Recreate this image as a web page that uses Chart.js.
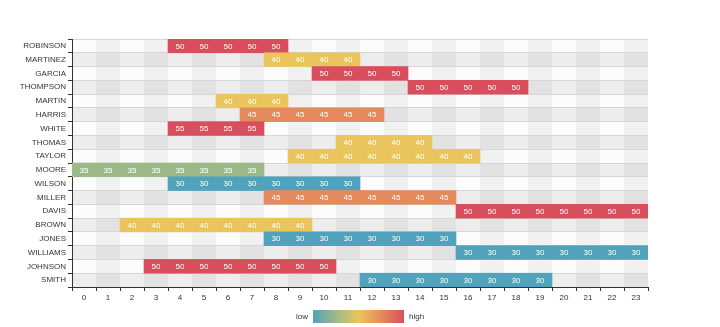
<!DOCTYPE html>
<html lang="en">
<head>
<meta charset="UTF-8">
<meta name="viewport" content="width=device-width, initial-scale=1.0">
<title>Hourly load per person</title>
<script src="https://cdn.jsdelivr.net/npm/chart.js"></script>
<style>
  body { margin: 0; background: #fff; }
</style>
</head>
<body>
<canvas id="heat" width="720" height="327"></canvas>
<script>
const names = ['ROBINSON', 'MARTINEZ', 'GARCIA', 'THOMPSON', 'MARTIN', 'HARRIS', 'WHITE', 'THOMAS', 'TAYLOR',
               'MOORE', 'WILSON', 'MILLER', 'DAVIS', 'BROWN', 'JONES', 'WILLIAMS', 'JOHNSON', 'SMITH'];
const hours = [0, 1, 2, 3, 4, 5, 6, 7, 8, 9, 10, 11, 12, 13, 14, 15, 16, 17, 18, 19, 20, 21, 22, 23];
// each person works one block of hours at a constant load
const fromHour = [4, 8, 10, 14, 6, 7, 4, 11, 9, 0, 4, 8, 16, 2, 8, 16, 3, 12];
const toHour   = [8, 11, 13, 18, 8, 12, 7, 14, 16, 7, 11, 15, 23, 9, 15, 23, 10, 19];
const load     = [50, 40, 50, 50, 40, 45, 55, 40, 40, 35, 30, 45, 50, 40, 30, 30, 50, 30];

const FONT = "'Liberation Sans', Arial, Helvetica, sans-serif";
const colorStops = [[30, '#50a3ba'], [35, '#9cb98a'], [40, '#eac55e'], [45, '#e48b5e'], [50, '#d94e5d']];

function hexToRgb(h) {
  return [1, 3, 5].map(i => parseInt(h.slice(i, i + 2), 16));
}

function colorFor(v) {
  const lo = colorStops[0][0], hi = colorStops[colorStops.length - 1][0];
  v = Math.max(lo, Math.min(hi, v));
  for (let i = 0; i < colorStops.length - 1; i++) {
    const [a, ca] = colorStops[i], [b, cb] = colorStops[i + 1];
    if (v <= b) {
      const t = (v - a) / (b - a);
      const A = hexToRgb(ca), B = hexToRgb(cb);
      const c = A.map((x, k) => Math.round(x + (B[k] - x) * t));
      return `rgb(${c[0]},${c[1]},${c[2]})`;
    }
  }
  return colorStops[colorStops.length - 1][1];
}

// alternating column and row bands behind the cells
const bands = {
  id: 'bands',
  beforeDraw(chart) {
    const { ctx, chartArea: a, scales: { x } } = chart;
    const light = 'rgba(250,250,250,0.3)', dark = 'rgba(200,200,200,0.3)';
    ctx.save();
    hours.forEach(h => {
      const l = x.getPixelForValue(h - 0.5), r = x.getPixelForValue(h + 0.5);
      ctx.fillStyle = h % 2 ? dark : light;
      ctx.fillRect(l, a.top, r - l, a.bottom - a.top);
    });
    const rowH = (a.bottom - a.top) / names.length;
    names.forEach((n, i) => {
      ctx.fillStyle = i % 2 ? dark : light;
      ctx.fillRect(a.left, a.top + i * rowH, a.right - a.left, rowH);
    });
    ctx.restore();
  }
};

// value written in the middle of each cell
const cellText = {
  id: 'cellText',
  afterDatasetsDraw(chart) {
    const { ctx } = chart;
    ctx.save();
    ctx.fillStyle = '#fff';
    ctx.font = '8px ' + FONT;
    ctx.textAlign = 'center';
    ctx.textBaseline = 'middle';
    chart.data.datasets.forEach((ds, d) => {
      chart.getDatasetMeta(d).data.forEach((el, i) => {
        if (ds.data[i] == null) return;
        const { x, y, base } = el.getProps(['x', 'y', 'base'], true);
        ctx.fillText(String(load[i]), (x + base) / 2, y + 0.5);
      });
    });
    ctx.restore();
  }
};

// continuous visual map under the plot
const scaleLegend = {
  id: 'scaleLegend',
  afterDraw(chart) {
    const { ctx } = chart;
    const x0 = 313, y0 = 310, w = 91, h = 13;
    ctx.save();
    const g = ctx.createLinearGradient(x0, 0, x0 + w, 0);
    colorStops.forEach(([v, c]) => g.addColorStop((v - 30) / 20, c));
    ctx.fillStyle = g;
    ctx.fillRect(x0, y0, w, h);
    ctx.fillStyle = '#333';
    ctx.font = '8px ' + FONT;
    ctx.textBaseline = 'middle';
    ctx.textAlign = 'right';
    ctx.fillText('low', x0 - 5, y0 + h / 2);
    ctx.textAlign = 'left';
    ctx.fillText('high', x0 + w + 5, y0 + h / 2);
    ctx.restore();
  }
};

new Chart(document.getElementById('heat'), {
  type: 'bar',
  data: {
    labels: names,
    datasets: hours.map(h => ({
      label: String(h),
      data: names.map((n, i) => (h >= fromHour[i] && h <= toHour[i]) ? [h - 0.5, h + 0.5] : null),
      backgroundColor: load.map(v => colorFor(v)),
      borderWidth: 0,
      barPercentage: 1,
      categoryPercentage: 1,
      grouped: false
    }))
  },
  options: {
    indexAxis: 'y',
    responsive: false,
    animation: false,
    layout: { padding: { top: 39, right: 72, bottom: 20, left: 0 } },
    plugins: {
      legend: { display: false },
      tooltip: { enabled: false }
    },
    scales: {
      x: {
        type: 'linear',
        min: -0.5,
        max: 23.5,
        afterBuildTicks: s => { s.ticks = hours.map(v => ({ value: v })); },
        afterFit: s => { s.height = 20; },
        grid: { offset: true, drawOnChartArea: false, tickLength: 4, tickColor: '#333' },
        border: { color: '#333' },
        ticks: { color: '#333', font: { family: FONT, size: 8 }, padding: 2, autoSkip: false, maxRotation: 0 }
      },
      y: {
        afterFit: s => { s.width = 72; },
        grid: { offset: true, color: '#d6d6d6', tickLength: 4, tickColor: '#333' },
        border: { color: '#333' },
        ticks: { color: '#333', font: { family: FONT, size: 8 }, padding: 2, autoSkip: false }
      }
    }
  },
  plugins: [bands, cellText, scaleLegend]
});
</script>
</body>
</html>
